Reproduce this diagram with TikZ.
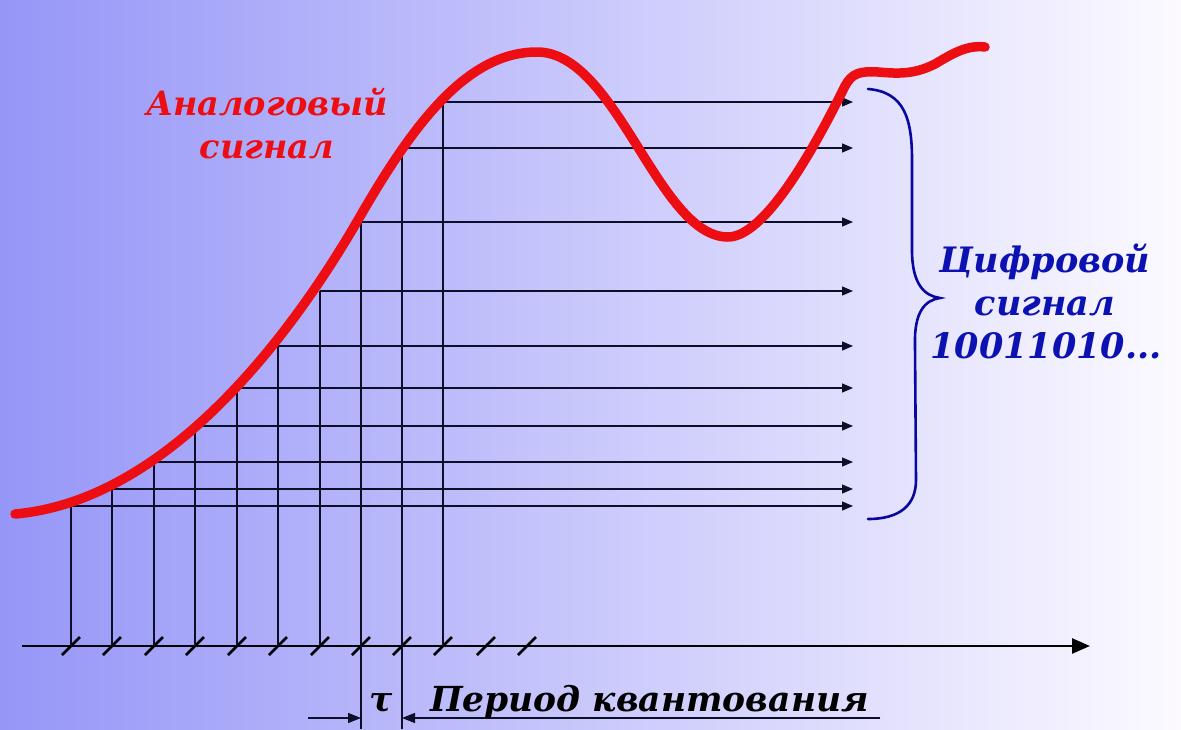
\documentclass[tikz,border=0pt]{standalone}
\usepackage{fontspec}
\setmainfont{DejaVu Serif}
\usetikzlibrary{arrows.meta}
\definecolor{sigred}{RGB}{236,14,18}
\definecolor{sigblue}{RGB}{12,18,178}
\definecolor{bracecol}{RGB}{8,8,160}
\definecolor{bgleft}{RGB}{150,150,248}
\definecolor{bgright}{RGB}{252,250,255}
\definecolor{gridcol}{RGB}{14,14,40}
\tikzset{
  gridline/.style={draw=gridcol, line width=1.3pt},
  levelarrow/.style={draw=gridcol, line width=1.3pt, -{Triangle[length=11pt,width=9pt]}},
  axisline/.style={draw=black, line width=2.6pt, -{Triangle[length=18pt,width=15pt]}},
  tickmark/.style={draw=black, line width=2.6pt},
  periodarrow/.style={draw=gridcol, line width=1.3pt, -{Triangle[length=13pt,width=10pt]}},
  redtext/.style={text=sigred, font=\fontsize{33.5}{40}\selectfont\bfseries\itshape, anchor=base, inner sep=0pt},
  bluetext/.style={text=sigblue, font=\fontsize{35}{42}\selectfont\bfseries\itshape, anchor=base, inner sep=0pt},
  blacktext/.style={text=black, font=\fontsize{34.5}{40}\selectfont\bfseries\itshape, anchor=base, inner sep=0pt},
}
\begin{document}
\begin{tikzpicture}[x=1pt,y=-1pt]
\useasboundingbox (0,0) rectangle (1181,729);
\shade[left color=bgleft, right color=bgright] (0,0) rectangle (1181,729);

% axis
\coordinate (axstart) at (22,646);
\coordinate (axend) at (1090,646);
\draw[axisline] (axstart) -- (axend);
\foreach \tx in {71,112,154,195,237,278,320,361,402,443,486,527}{
  \coordinate (ta) at (\tx-9,655);
  \coordinate (tb) at (\tx+9,637);
  \draw[tickmark] (ta) -- (tb);
}

% sample points
\foreach \i/\px/\py in {1/71/506,2/112/489,3/154/462,4/195/426,5/237/388,6/278/346,7/320/291,8/361/222,9/402/148,10/443/102}{
  \coordinate (p\i) at (\px,\py);
  \coordinate (f\i) at (\px,646);
  \coordinate (e\i) at (853,\py);
  \draw[gridline] (f\i) -- (p\i);
  \draw[levelarrow] (p\i) -- (e\i);
}
\coordinate (g8) at (361,729);
\coordinate (g9) at (402,729);
\draw[gridline] (f8) -- (g8);
\draw[gridline] (f9) -- (g9);

% analog signal
\coordinate (c0) at (15,514);
\coordinate (c1) at (358,220);
\coordinate (c2) at (537,52);
\coordinate (c3) at (728,237);
\coordinate (c4) at (845,86);
\coordinate (c5) at (878,72);
\coordinate (c6) at (935,64);
\coordinate (c7) at (985,47);
\draw[sigred, line width=9.5pt, line cap=round, line join=round]
  (c0) .. controls (175,500) and (300,320) .. (c1)
       .. controls (413,124) and (467,52) .. (c2)
       .. controls (617,52) and (658,237) .. (c3)
       .. controls (770,237) and (827,122) .. (c4)
       .. controls (852,73) and (860,71) .. (c5)
       .. controls (900,74) and (915,74) .. (c6)
       .. controls (955,52) and (968,45) .. (c7);

% brace
\coordinate (bt) at (868,89);
\coordinate (bm) at (940,298);
\coordinate (bb) at (868,519);
\draw[bracecol, line width=2.6pt, line cap=round]
  (bt) .. controls (905,92) and (912,120) .. (912,160) -- (912,250)
  .. controls (912,285) and (925,296) .. (bm)
  .. controls (925,300) and (914,312) .. (915,345) -- (916,480)
  .. controls (916,505) and (900,519) .. (bb);

% period of quantization
\coordinate (ql) at (308,718);
\coordinate (qr) at (880,718);
\draw[periodarrow] (ql) -- (g8 |- ql);
\draw[periodarrow] (qr) -- (g9 |- qr);
\node[blacktext] (tau) at (381,711) {τ};
\node[blacktext, anchor=base west] (period) at (430,711) {Период квантования};

% labels
\node[redtext] (an1) at (267,115) {Аналоговый};
\node[redtext] (an2) at (267,158) {сигнал};
\node[bluetext] (dg1) at (1045,272) {Цифровой};
\node[bluetext] (dg2) at (1045,315) {сигнал};
\node[bluetext] (dg3) at (1046,358) {10011010...};
\end{tikzpicture}
\end{document}
